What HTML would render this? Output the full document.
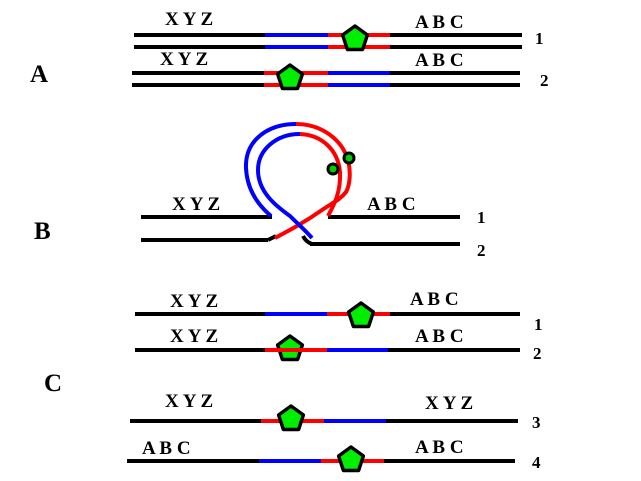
<!DOCTYPE html>
<html><head><style>body{margin:0;background:#fff}svg{display:block}</style></head><body>
<svg width="641" height="481" viewBox="0 0 641 481" xmlns="http://www.w3.org/2000/svg" font-family="Liberation Serif, serif" font-weight="bold">
<defs>
<polygon id="p" points="0,-13 12.4,-4 7.6,10.5 -7.6,10.5 -12.4,-4" fill="#00ee00" stroke="#000" stroke-width="3.5" stroke-linejoin="round"/>
</defs>
<g stroke-width="4" fill="none">
<path d="M134 35H265M390 35H522M134 47H265M390 47H522" stroke="#000"/>
<path d="M265 35H328M265 47H328" stroke="#0000ff"/>
<path d="M328 35H390M328 47H390" stroke="#ff0000"/>
<path d="M132 73H264M390 73H520M132 85H264M390 85H520" stroke="#000"/>
<path d="M264 73H328M264 85H328" stroke="#ff0000"/>
<path d="M328 73H390M328 85H390" stroke="#0000ff"/>
<path d="M141 217H272M328 217H460M141 240H268M310 244H460" stroke="#000"/>
<path d="M268 240L276 236M303 236Q306 242 312 244" stroke="#000"/>
<path d="M271 216C258 205 247 190 246 168C245 140 268 124 296 124" stroke="#0000ff"/>
<path d="M296 124C322 124 342 140 348 160C351 172 350 185 346 192C340 200 332 203 322 210C305 222 290 230 275 238" stroke="#ff0000"/>
<path d="M300 134C322 135 338 150 340 172C341 192 334 205 328 216" stroke="#ff0000"/>
<path d="M300 134C276 134 258 150 258 170C258 192 276 206 290 216C298 224 305 230 312 238" stroke="#0000ff"/>
<path d="M135 314H265M390 314H520" stroke="#000"/><path d="M265 314H327" stroke="#0000ff"/><path d="M327 314H390" stroke="#ff0000"/>
<path d="M135 350H265M388 350H520" stroke="#000"/><path d="M327 350H388" stroke="#0000ff"/>
<path d="M130 421H261M386 421H518" stroke="#000"/><path d="M261 421H324" stroke="#ff0000"/><path d="M324 421H386" stroke="#0000ff"/>
<path d="M127 461H259M384 461H515" stroke="#000"/><path d="M259 461H321" stroke="#0000ff"/><path d="M321 461H384" stroke="#ff0000"/>
</g>
<circle cx="333" cy="169" r="5" fill="#00cc00" stroke="#000" stroke-width="3"/>
<circle cx="349" cy="158" r="5" fill="#00cc00" stroke="#000" stroke-width="3"/>
<use href="#p" x="355" y="39"/>
<use href="#p" x="290" y="78"/>
<use href="#p" x="361" y="316"/>
<use href="#p" x="290" y="349"/>
<path d="M265 350H327" stroke="#ff0000" stroke-width="4"/>
<use href="#p" x="291" y="419"/>
<use href="#p" x="351" y="460"/>
<g font-size="19">
<text x="165" y="25">X Y Z</text><text x="415" y="28">A B C</text>
<text x="160" y="65">X Y Z</text><text x="415" y="66">A B C</text>
<text x="172" y="210">X Y Z</text><text x="367" y="210">A B C</text>
<text x="170" y="307">X Y Z</text><text x="410" y="305">A B C</text>
<text x="170" y="342">X Y Z</text><text x="415" y="342">A B C</text>
<text x="165" y="407">X Y Z</text><text x="425" y="409">X Y Z</text>
<text x="142" y="454">A B C</text><text x="415" y="453">A B C</text>
</g>
<g font-size="17">
<text x="535" y="44">1</text><text x="540" y="86">2</text>
<text x="477" y="223">1</text><text x="477" y="256">2</text>
<text x="534" y="330">1</text><text x="533" y="359">2</text>
<text x="532" y="428">3</text><text x="532" y="468">4</text>
</g>
<g font-size="25">
<text x="30" y="82">A</text><text x="34" y="239">B</text><text x="44" y="391">C</text>
</g>
</svg>
</body></html>
